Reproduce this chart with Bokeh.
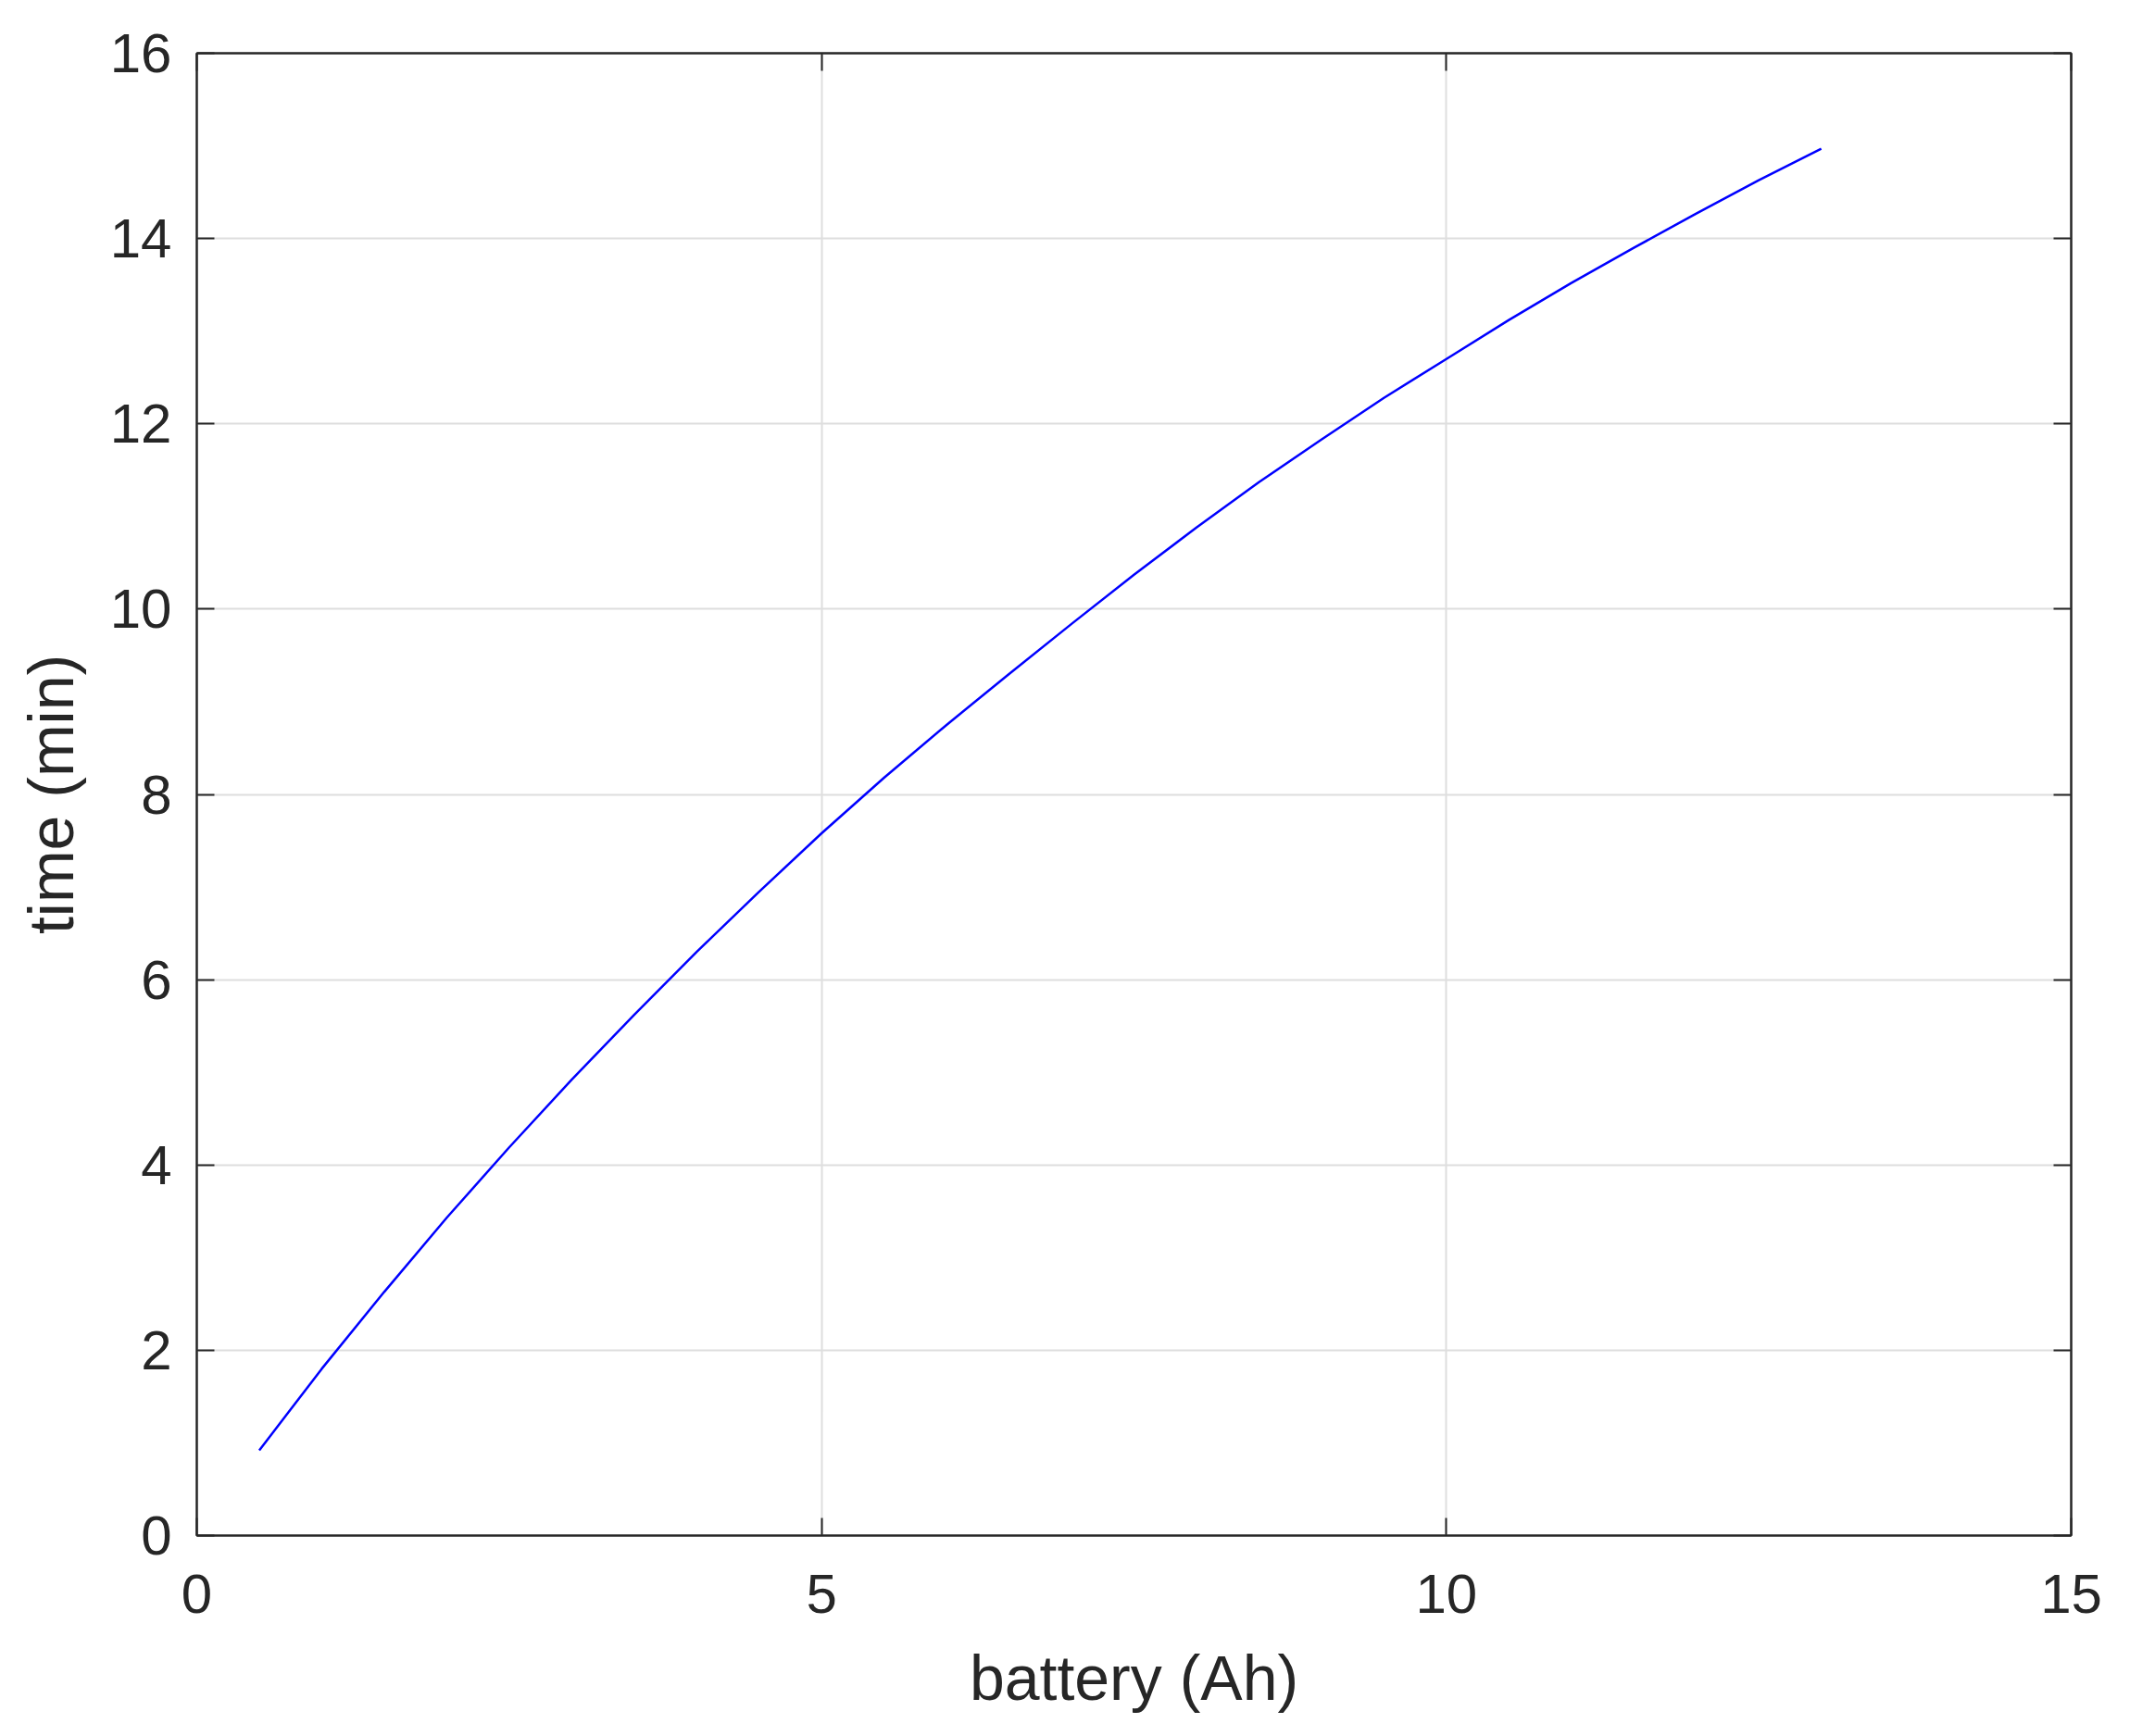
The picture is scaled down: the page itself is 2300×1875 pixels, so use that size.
from bokeh.plotting import figure
from bokeh.models import LinearAxis, FixedTicker, Range1d, CustomJSTickFormatter
from bokeh.embed import file_html
from bokeh.resources import INLINE

# data
battery_ah = [0.5, 1.0, 1.5, 2.0, 2.5, 3.0, 3.5, 4.0, 4.5, 5.0, 5.5, 6.0, 6.5,
              7.0, 7.5, 8.0, 8.5, 9.0, 9.5, 10.0, 10.5, 11.0, 11.5, 12.0, 12.5, 13.0]
time_min = [0.92, 1.80, 2.63, 3.43, 4.19, 4.92, 5.62, 6.30, 6.95, 7.58, 8.18, 8.75, 9.30,
            9.84, 10.37, 10.88, 11.37, 11.83, 12.28, 12.70, 13.12, 13.52, 13.90, 14.27, 14.63, 14.97]
x_ticks = [0, 5, 10, 15]
y_ticks = [0, 2, 4, 6, 8, 10, 12, 14, 16]

FONT = "Liberation Sans"
TXT = "#262626"
GRID = "#dedede"

p = figure(width=2292, height=1858, output_backend="svg", toolbar_location=None,
           x_range=Range1d(0, 15), y_range=Range1d(0, 16),
           x_axis_label="battery (Ah)", y_axis_label="time (min)",
           min_border_left=212, min_border_top=57, min_border_right=56, min_border_bottom=200)
p.frame_width = 2024
p.frame_height = 1601
p.background_fill_color = "white"
p.border_fill_color = "white"
p.outline_line_color = TXT
p.outline_line_width = 2

p.line(battery_ah, time_min, line_color="#0000ff", line_width=2.5)

for ax, ticks in ((p.xaxis[0], x_ticks), (p.yaxis[0], y_ticks)):
    ax.ticker = FixedTicker(ticks=ticks)
    ax.axis_line_color = TXT
    ax.axis_line_width = 2
    ax.major_tick_line_color = TXT
    ax.major_tick_line_width = 2
    ax.major_tick_in = 19
    ax.major_tick_out = 0
    ax.minor_tick_line_color = None
    ax.major_label_text_font = FONT
    ax.major_label_text_font_size = "60px"
    ax.major_label_text_color = TXT
    ax.axis_label_text_font = FONT
    ax.axis_label_text_font_size = "68px"
    ax.axis_label_text_font_style = "normal"
    ax.axis_label_text_color = TXT

p.xaxis[0].major_label_standoff = 42
p.xaxis[0].axis_label_standoff = 29
p.yaxis[0].major_label_standoff = 27
p.yaxis[0].axis_label_standoff = 23

blank = CustomJSTickFormatter(code="return '';")
top_ax = LinearAxis(ticker=FixedTicker(ticks=x_ticks), formatter=blank)
right_ax = LinearAxis(ticker=FixedTicker(ticks=y_ticks), formatter=blank)
for ax in (top_ax, right_ax):
    ax.axis_line_color = TXT
    ax.axis_line_width = 2
    ax.major_tick_line_color = TXT
    ax.major_tick_line_width = 2
    ax.major_tick_in = 19
    ax.major_tick_out = 0
    ax.minor_tick_line_color = None
    ax.major_label_text_font_size = "1px"
    ax.major_label_standoff = 0
p.add_layout(top_ax, "above")
p.add_layout(right_ax, "right")

p.xgrid.ticker = FixedTicker(ticks=x_ticks)
p.ygrid.ticker = FixedTicker(ticks=y_ticks)
p.grid.grid_line_color = GRID
p.grid.grid_line_width = 2

open("out.html", "w").write(file_html(p, INLINE))
